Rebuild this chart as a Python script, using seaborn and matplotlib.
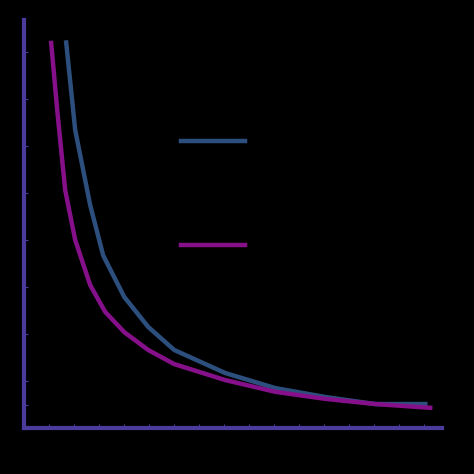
import matplotlib
matplotlib.use("Agg")
import matplotlib.pyplot as plt
import pandas as pd
import seaborn as sns

blue_x = [1.68, 2.04, 2.64, 3.16, 4.0, 4.96, 6.0, 8.04, 10.04, 12.04, 14.04, 16.04]
blue_y = [8.2, 6.34, 4.74, 3.67, 2.79, 2.15, 1.66, 1.17, 0.85, 0.66, 0.51, 0.51]
purple_x = [1.08, 1.32, 1.64, 2.04, 2.64, 3.24, 4.0, 4.96, 6.0, 8.04, 10.04, 12.04, 14.04, 16.24]
purple_y = [8.19, 6.77, 5.06, 4.0, 3.04, 2.47, 2.04, 1.66, 1.36, 1.02, 0.77, 0.62, 0.51, 0.43]

df = pd.concat([
    pd.DataFrame({"x": blue_x, "y": blue_y, "series": "A"}),
    pd.DataFrame({"x": purple_x, "y": purple_y, "series": "B"}),
])

axis_color = "#4a3b9c"
fig = plt.figure(figsize=(4.74, 4.74), dpi=100, facecolor="black")
ax = fig.add_axes([0.051, 0.097, 0.882, 0.861])
ax.set_facecolor("black")
sns.lineplot(data=df, x="x", y="y", hue="series", palette={"A": "#2c4f7e", "B": "#86108a"},
             linewidth=3.2, sort=False, ax=ax)
ax.set_xlim(0, 16.72)
ax.set_ylim(0, 8.68)
for side in ["top", "right"]:
    ax.spines[side].set_visible(False)
for side in ["left", "bottom"]:
    ax.spines[side].set_color(axis_color)
    ax.spines[side].set_linewidth(3)
ax.set_xticks(range(1, 17))
ax.set_yticks([0.5, 1.0, 2.0, 3.0, 4.0, 5.0, 6.0, 7.0, 8.0])
ax.tick_params(direction="in", length=3, color=axis_color, labelcolor="black", labelsize=5)
ax.set_xlabel("")
ax.set_ylabel("")
leg = ax.legend(loc="upper left", bbox_to_anchor=(0.345, 0.75), frameon=False,
                handlelength=4.6, labelspacing=6.5, labelcolor="black")
for line in leg.get_lines():
    line.set_linewidth(3.2)
fig.savefig("out.png", dpi=100, facecolor="black")
